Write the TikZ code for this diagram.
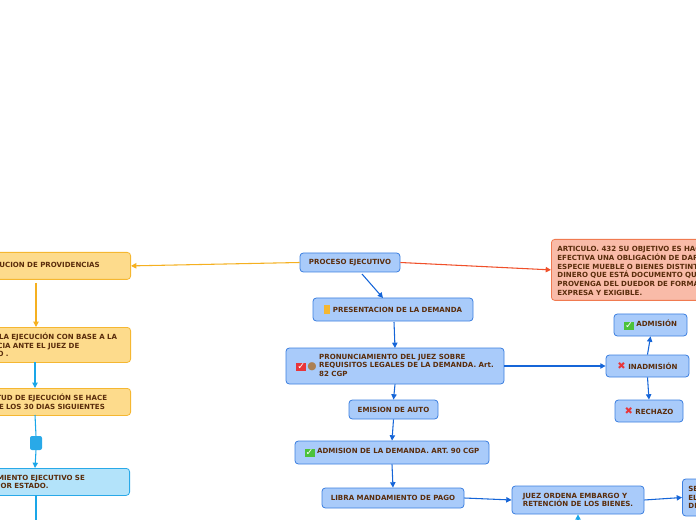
\documentclass[tikz,border=0pt]{standalone}
\usepackage{fontspec}
\setmainfont{DejaVu Sans}
\usetikzlibrary{arrows.meta}
\definecolor{txt}{HTML}{5A2D0C}
\definecolor{bfill}{HTML}{A9CBFA}\definecolor{bdraw}{HTML}{3C7FE0}
\definecolor{ofill}{HTML}{FDDB8C}\definecolor{odraw}{HTML}{F5B731}
\definecolor{lfill}{HTML}{B3E3FA}\definecolor{ldraw}{HTML}{29A9E8}
\definecolor{rfill}{HTML}{F9BBA8}\definecolor{rdraw}{HTML}{F07A50}
\definecolor{barr}{HTML}{1565D8}\definecolor{oarr}{HTML}{F5B020}
\definecolor{rarr}{HTML}{F0502A}\definecolor{larr}{HTML}{1AA6E8}
\definecolor{okg}{HTML}{4CC23A}\definecolor{xred}{HTML}{E8353A}
\tikzset{
 box/.style={draw, rounded corners=2.5pt, line width=0.6pt, text=txt, inner xsep=4.5pt, inner ysep=0pt,
   font=\bfseries\fontsize{5.3}{6.5}\selectfont},
 bbox/.style={box, fill=bfill, draw=bdraw, align=center},
 obox/.style={box, fill=ofill, draw=odraw, align=left},
 lbox/.style={box, fill=lfill, draw=ldraw, align=left},
 rbox/.style={box, fill=rfill, draw=rdraw, align=left},
 arr/.style={-{Triangle[length=4pt,width=4pt]}, line width=0.8pt},
}
\setlength{\fboxsep}{0.8pt}
\newcommand{\okic}{\raisebox{-1.5pt}{\colorbox{okg}{\color{white}\fontsize{7}{7}\selectfont ✓}}}
\newcommand{\rchk}{\raisebox{-1.5pt}{\colorbox{xred}{\color{white}\fontsize{7}{7}\selectfont ✓}}}
\newcommand{\xic}{{\color{xred}\fontsize{7.5}{7.5}\selectfont ✖}}
\newcommand{\noteic}{{\color{odraw}\rule[-1.5pt]{5pt}{7pt}}}
\newcommand{\perso}{{\color{brown!70!gray}\fontsize{8}{8}\selectfont\raisebox{-1.5pt}{●}}}
\begin{document}
\begin{tikzpicture}[x=0.75pt,y=-0.75pt]
\useasboundingbox (0,0) rectangle (696,520);
\clip (0,0) rectangle (696,520);
\node[bbox, minimum width=75pt, minimum height=14.25pt] (pe) at (350,262.5) {PROCESO EJECUTIVO};
\node[bbox, minimum width=120pt, minimum height=17.25pt] (pd) at (393,309.5) {\noteic\ PRESENTACION DE LA DEMANDA};
\node[bbox, minimum width=163.5pt, minimum height=27pt, align=left] (pj) at (395,366) {\rchk\,\perso\ \begin{tabular}{@{}l@{}}PRONUNCIAMIENTO DEL JUEZ SOBRE\\REQUISITOS LEGALES DE LA DEMANDA. Art.\\82 CGP\end{tabular}};
\node[bbox, minimum width=66.75pt, minimum height=14.25pt] (ea) at (393.5,409.5) {EMISION DE AUTO};
\node[bbox, minimum width=145.5pt, minimum height=17.25pt] (ad) at (392,452.5) {\okic\ ADMISION DE LA DEMANDA. ART. 90 CGP};
\node[bbox, minimum width=106.5pt, minimum height=15pt] (lm) at (393,498) {LIBRA MANDAMIENTO DE PAGO};
\node[bbox, minimum width=99pt, minimum height=21pt, align=left] (jo) at (578,500) {JUEZ ORDENA EMBARGO Y\\RETENCIÓN DE LOS BIENES.};
\node[bbox, minimum height=27.75pt, align=left, anchor=west, text width=36pt] (fr) at (682,497.5) {SE\\EL\\DE};
\node[bbox, minimum width=54.75pt, minimum height=16.5pt] (am) at (650.5,325) {\okic\ ADMISIÓN};
\node[bbox, minimum width=62.25pt, minimum height=16.5pt] (in) at (647.5,366) {\xic\ INADMISIÓN};
\node[bbox, minimum width=51pt, minimum height=16.5pt] (re) at (649,411) {\xic\ RECHAZO};
\node[rbox, anchor=north west, text width=150pt, minimum height=45.75pt] (ar) at (551,239) {\\[-1pt]ARTICULO. 432 SU OBJETIVO ES HACER\\EFECTIVA UNA OBLIGACIÓN DE DAR UNA\\ESPECIE MUEBLE O BIENES DISTINTOS DE\\DINERO QUE ESTÁ DOCUMENTO QUE\\PROVENGA DEL DUEDOR DE FORMA CLARA\\EXPRESA Y EXIGIBLE.};
\node[obox, anchor=north east, minimum width=116pt, minimum height=20.25pt, text width=107pt] (o1) at (131,252) {EJECUCION DE PROVIDENCIAS\\[5pt]};
\node[obox, anchor=north east, minimum width=128pt, minimum height=26.25pt, text width=119pt] (o2) at (131,327) {SE PIDE LA EJECUCIÓN CON BASE A LA\\SENTENCIA ANTE EL JUEZ DE\\CIRCUITO .};
\node[obox, anchor=north east, minimum width=134pt, minimum height=20.25pt, text width=125pt] (o3) at (131,388) {LA SOLICITUD DE EJECUCIÓN SE HACE\\DENTRO DE LOS 30 DIAS SIGUIENTES};
\node[lbox, anchor=north east, minimum width=135pt, minimum height=20.25pt, text width=126pt] (l1) at (130,468) {EL MANDAMIENTO EJECUTIVO SE\\NOTIFICA POR ESTADO.};
\node[fill=ldraw, rounded corners=1.5pt, minimum width=9pt, minimum height=10.5pt, inner sep=0] (sq) at (36,443) {};
\coordinate (bot) at (36,520);
\coordinate (jb) at (578,520);
\draw[arr, oarr] (pe.west) -- (o1.east);
\draw[arr, rarr] (pe.east) -- (ar.west);
\draw[arr, barr] (362,274) -- (383,298);
\draw[arr, barr] (394,322) -- (395,348);
\draw[arr, barr] (pj.south) -- (ea.north);
\draw[arr, barr] (ea.south) -- (ad.north);
\draw[arr, barr] (ad.south) -- (lm.north);
\draw[arr, barr] (lm.east) -- (jo.west);
\draw[arr, barr] (jo.east) -- (fr.west);
\draw[arr, barr] (pj.east) -- (in.west);
\draw[arr, barr] (in.north) -- (am.south);
\draw[arr, barr] (in.south) -- (re.north);
\draw[arr, oarr] (36,283) -- (36,327);
\draw[arr, larr] (35,362) -- (35,388);
\draw[line width=0.8pt, larr] (35,415) -- (sq.north);
\draw[arr, larr] (sq.south) -- (35,468);
\draw[line width=0.8pt, larr] (36,495) -- (bot);
\draw[arr, larr] (jb) -- (jo.south);
\end{tikzpicture}
\end{document}
